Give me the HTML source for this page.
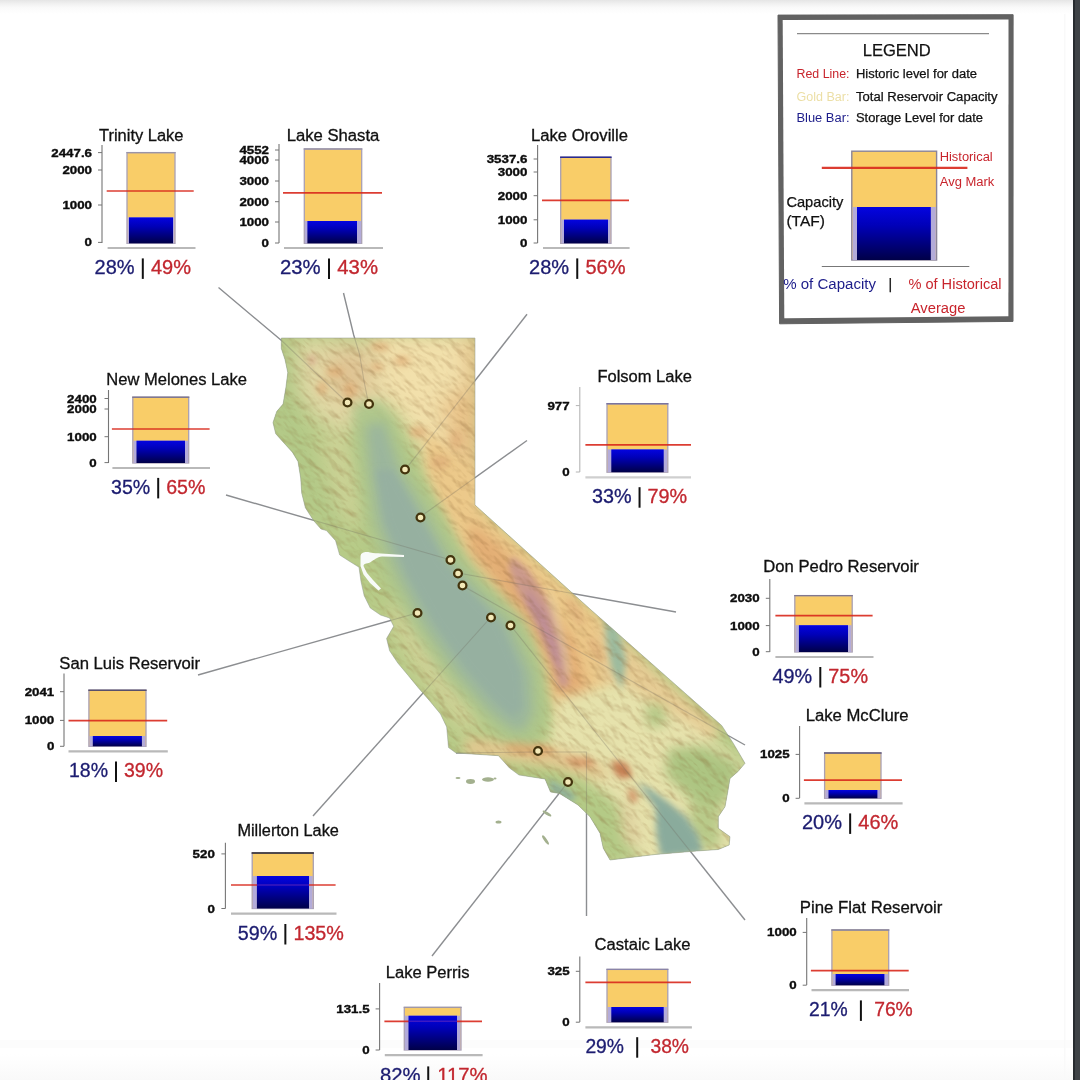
<!DOCTYPE html>
<html><head><meta charset="utf-8"><title>California Reservoir Conditions</title>
<style>
html,body{margin:0;padding:0;background:#fff;}
body{width:1080px;height:1080px;overflow:hidden;position:relative;font-family:"Liberation Sans", sans-serif;}
svg{position:absolute;left:0;top:0;display:block;}
svg text{font-family:"Liberation Sans", sans-serif;}
</style></head><body>
<svg width="1080" height="1080" viewBox="0 0 1080 1080">
<defs>
<linearGradient id="bl" x1="0" y1="0" x2="0" y2="1"><stop offset="0" stop-color="#0404e0"/><stop offset="0.35" stop-color="#0000b8"/><stop offset="1" stop-color="#000048"/></linearGradient>
<linearGradient id="topsh" x1="0" y1="0" x2="0" y2="1"><stop offset="0" stop-color="#e5e5e5"/><stop offset="0.25" stop-color="#f0f0f0"/><stop offset="0.55" stop-color="#fafafa"/><stop offset="1" stop-color="#ffffff"/></linearGradient>
<linearGradient id="botsh" x1="0" y1="0" x2="0" y2="1"><stop offset="0" stop-color="#ffffff"/><stop offset="1" stop-color="#f9f9f9"/></linearGradient>
<clipPath id="caclip"><path d="M281.3,338 L475,338 L475,505 L590,609 L721.7,725.5 L733.3,743.3 L745,763.3 L738,771.5 L730,778.5 L727.5,793.3 L725,806.7 L718.3,816.7 L718.3,828.3 L730,836.7 L729.2,845 L718.3,849.5 L696.7,851 L655,854.5 L610,860 L603.3,848.3 L600,833.3 L590,816.7 L578,805 L559.5,793.5 L550.5,792 L545,779 L519,775 L509.5,768 L498.5,755.7 L456,753 L448.5,747.5 L446.7,727 L440.5,714 L430.4,701.7 L418,687.4 L408,675.2 L397.8,663 L389.6,650.7 L386.6,638.5 L393.7,626.3 L389.6,618 L380.5,615 L370.3,608 L364.2,595.7 L361,581.5 L359,567.2 L349,561 L339.7,555 L335.6,540.7 L326.5,530.6 L321,529 L313.7,520.7 L305.4,507.8 L301.7,493 L300.7,478 L298,461.5 L292.4,452.2 L284,443 L275.7,433.7 L273,422.6 L276.7,411.5 L283.1,404 L285.9,387.4 L287.8,372.6 L285,359.6 L281.3,348.5 Z"/></clipPath>
<filter id="b6" x="-30%" y="-30%" width="160%" height="160%"><feGaussianBlur stdDeviation="6"/></filter>
<filter id="b10" x="-30%" y="-30%" width="160%" height="160%"><feGaussianBlur stdDeviation="10"/></filter>
<filter id="b3" x="-30%" y="-30%" width="160%" height="160%"><feGaussianBlur stdDeviation="3"/></filter>
<filter id="b1" x="-10%" y="-10%" width="120%" height="120%"><feGaussianBlur stdDeviation="0.6"/></filter>
<filter id="relief" x="0" y="0" width="100%" height="100%" color-interpolation-filters="sRGB"><feTurbulence type="fractalNoise" baseFrequency="0.06 0.12" numOctaves="3" seed="11" result="n"/><feDiffuseLighting in="n" surfaceScale="2.0" diffuseConstant="1" lighting-color="#ffffff" result="l"><feDistantLight azimuth="250" elevation="50"/></feDiffuseLighting><feColorMatrix in="l" type="matrix" values="0 0 0 0 0.52  0 0 0 0 0.36  0 0 0 0 0.18  -2.2 0 0 0 1.78"/></filter>
</defs>
<rect x="0" y="0" width="1080" height="1080" fill="#fff"/>
<rect x="0" y="0" width="1073" height="14" fill="url(#topsh)"/>
<rect x="0" y="1040" width="1073" height="8" fill="#fcfcfc"/><rect x="0" y="1054" width="1073" height="26" fill="url(#botsh)"/>
<rect x="1064" y="14" width="1.5" height="1066" fill="#f9f9f9"/>
<rect x="1073" y="0" width="7" height="1080" fill="#3f4347"/>
<rect x="1073" y="0" width="2" height="1080" fill="#272b2f"/>

<g stroke="#8c8e91" stroke-width="1.4" fill="none"><path d="M218.5,287.5 L281.5,340.5 L347,402.5"/><path d="M343.5,293 L353.7,335 L359.5,354 L364,381 L368.5,403.5"/><path d="M527,314.3 L405.5,469.4"/><path d="M527,440.5 L420,517"/><path d="M226,495 L451,560"/><path d="M676,612 L458,573"/><path d="M745,745 L463,586"/><path d="M198,675 L417,613"/><path d="M313,816 L491,617"/><path d="M745,920 L511,626"/><path d="M456,753 L538,752 L586.5,752 L586.5,916"/><path d="M432,956 L568,782"/></g>
<!-- MAP -->
<g id="map" filter="url(#b1)">
<g clip-path="url(#caclip)">
<rect x="260" y="330" width="500" height="540" fill="#b7cb88"/>
<g filter="url(#b10)">
<!-- Klamath / NW tan -->
<path d="M292,340 L400,340 L395,400 L370,418 L345,432 L318,420 L298,390 Z" fill="#e2d9a6"/>
<path d="M330,350 L370,350 L372,395 L345,405 L328,385 Z" fill="#e0c594"/>
<!-- NE Modoc tan -->
<path d="M375,332 L482,332 L482,515 L450,500 L425,455 L400,420 L383,395 Z" fill="#f2e0ab"/>
<path d="M440,400 L482,380 L482,510 L462,490 L448,440 Z" fill="#e9c48a"/>
<path d="M466,335 L482,335 L482,480 L470,450 Z" fill="#e6bd84"/>
<!-- west coast green strip -->
<path d="M268,345 L296,345 L302,420 L318,470 L345,520 L330,532 L300,500 L280,450 L266,420 Z" fill="#b2c987"/>
<!-- coast ranges (mid) tan-green -->
<path d="M318,436 L348,432 L358,480 L364,520 L352,532 L336,504 Z" fill="#d0d398" fill-opacity="0.85"/>
<path d="M388,602 L414,606 L452,662 L480,722 L468,738 L440,702 L412,662 L394,628 Z" fill="#d6d49a" fill-opacity="0.85"/>
</g>
<!-- Sierra Nevada band -->
<g filter="url(#b6)">
<path d="M425,430 L478,470 L478,505 L540,560 L600,615 L650,665 L600,700 L590,735 L565,735 L545,690 L530,640 L500,600 L470,570 L445,520 L425,470 Z" fill="#ecc98a"/>
<path d="M600,620 L660,675 L722,730 L700,750 L640,715 L600,680 Z" fill="#e6cc94"/>
<path d="M470,520 L500,545 L540,590 L575,640 L590,700 L580,725 L560,700 L540,650 L515,610 L490,575 L470,550 Z" fill="#e3ae74"/>
</g>
<g filter="url(#b3)">
<path d="M512,556 L528,570 L552,607 L566,650 L569,686 L560,688 L550,655 L534,620 L518,592 L509,568 Z" fill="#cb9a8c"/>
<path d="M527,588 L546,614 L559,650 L561,670 L552,660 L540,630 L527,604 Z" fill="#bf8e94"/>
</g>
<!-- south: transverse ranges & deserts -->
<g filter="url(#b6)">
<path d="M555,700 L620,682 L700,730 L748,765 L732,860 L600,865 L560,800 L548,750 Z" fill="#e6e2ac"/>
<path d="M668,748 L705,745 L742,766 L728,800 L715,812 L690,800 L665,775 Z" fill="#adc582"/>
<path d="M690,800 L722,805 L720,850 L700,850 L688,825 Z" fill="#b9cb8a"/>
<path d="M645,703 L664,705 L666,726 L648,728 Z" fill="#b4c886"/>
<path d="M465,738 L520,742 L560,748 L600,765 L612,775 L600,780 L570,772 L520,762 L465,756 Z" fill="#e2c890"/>
<path d="M515,770 L548,766 L585,778 L612,798 L630,822 L640,858 L605,864 L588,832 L560,800 Z" fill="#b4ca86"/>
<path d="M618,800 L632,806 L640,835 L636,852 L624,840 Z" fill="#e0d3a0"/>
</g>
<g filter="url(#b3)">
<path d="M605,615 L618,625 L626,660 L622,690 L612,670 L606,640 Z" fill="#9dbb9e"/>
<path d="M502,743 L520,739 L545,746 L558,752 L540,756 L512,752 Z" fill="#e0ab72"/>
<path d="M562,757 L590,758 L598,766 L575,767 Z" fill="#d9a070"/>
<path d="M612,760 L627,763 L633,777 L620,779 L613,770 Z" fill="#c98256"/>
<path d="M627,788 L635,791 L638,802 L631,802 Z" fill="#cd8c60"/>
<path d="M548,778 L576,795 L572,803 L551,792 Z" fill="#8fb09a"/>
</g>
<g filter="url(#b3)" fill="#deb07a" fill-opacity="0.8">
<ellipse cx="380" cy="347" rx="10" ry="4.5"/><ellipse cx="402" cy="361" rx="8" ry="5"/><ellipse cx="377" cy="367" rx="7" ry="4"/>
<ellipse cx="335" cy="372" rx="9" ry="6"/><ellipse cx="350" cy="390" rx="7" ry="8"/><ellipse cx="322" cy="388" rx="5" ry="7"/><ellipse cx="312" cy="360" rx="4" ry="6" fill="#d4a68a"/>
<ellipse cx="418" cy="432" rx="9" ry="6"/><ellipse cx="440" cy="462" rx="10" ry="7"/><ellipse cx="456" cy="440" rx="6" ry="10"/>
<ellipse cx="596" cy="650" rx="5" ry="14" transform="rotate(-25 596 650)"/><ellipse cx="575" cy="612" rx="5" ry="16" transform="rotate(-30 575 612)"/>
</g>
<!-- relief texture -->
<rect x="100" y="200" width="800" height="800" filter="url(#relief)" opacity="0.3" transform="rotate(44 500 600)"/>
<g filter="url(#b3)"><path d="M637,782 L650,789 L668,802 L686,817 L698,835 L703,853 L661,857 L656.5,835 L655.5,808 L648,797 Z" fill="#8aab9c"/></g>
<!-- Central valley (smooth, over texture) -->
<g filter="url(#b6)">
<path d="M352,405 L380,400 L395,420 L412,465 L442,515 L465,555 L490,585 L525,620 L545,670 L548,715 L535,745 L505,742 L478,715 L445,680 L412,630 L385,580 L366,530 L358,470 Z" fill="#acc58a" fill-opacity="0.92"/>
</g>
<g filter="url(#b6)">
<path d="M366,425 L384,422 L399,468 L428,518 L449,558 L474,586 L510,624 L531,674 L533,712 L523,732 L508,727 L488,710 L458,675 L424,626 L398,576 L377,522 L370,470 Z" fill="#9bb69c"/>
</g>
<g filter="url(#b3)">
<path d="M376,470 L392,470 L420,520 L442,560 L468,590 L500,625 L520,672 L522,708 L512,716 L494,700 L466,668 L434,622 L408,575 L386,522 Z" fill="#96b0a0"/>
</g>
<!-- SF bay -->
<g filter="url(#b1)">
<path d="M360.5,556 C361,552 366,551.5 370,552.5 C374,553.5 377,553 381,553.5 L404,555 L404,557 L382,556.5 C377,557 374,560 370,562.5 C366,564 364,563 363.5,566 L367,573 L373,580 L381,588.5 L378.5,590.5 L370,583 L363.5,574.5 L360.5,566 Z" fill="#f8fbf8"/>
</g>
<path d="M547,585 L556,600 L566,640 L572,675 L566,675 L558,640 L548,605 Z" fill="#f0e2b2" opacity="0.4" filter="url(#b3)"/>

</g>
</g>
<path d="M281.3,338 L475,338 L475,505 L590,609 L721.7,725.5 L733.3,743.3 L745,763.3 L738,771.5 L730,778.5 L727.5,793.3 L725,806.7 L718.3,816.7 L718.3,828.3 L730,836.7 L729.2,845 L718.3,849.5 L696.7,851 L655,854.5 L610,860 L603.3,848.3 L600,833.3 L590,816.7 L578,805 L559.5,793.5 L550.5,792 L545,779 L519,775 L509.5,768 L498.5,755.7 L456,753 L448.5,747.5 L446.7,727 L440.5,714 L430.4,701.7 L418,687.4 L408,675.2 L397.8,663 L389.6,650.7 L386.6,638.5 L393.7,626.3 L389.6,618 L380.5,615 L370.3,608 L364.2,595.7 L361,581.5 L359,567.2 L349,561 L339.7,555 L335.6,540.7 L326.5,530.6 L321,529 L313.7,520.7 L305.4,507.8 L301.7,493 L300.7,478 L298,461.5 L292.4,452.2 L284,443 L275.7,433.7 L273,422.6 L276.7,411.5 L283.1,404 L285.9,387.4 L287.8,372.6 L285,359.6 L281.3,348.5 Z" fill="none" stroke="#8f9a8c" stroke-opacity="0.55" stroke-width="0.9" filter="url(#b1)"/>
<g fill="#a3b08e" filter="url(#b1)">
<ellipse cx="470.5" cy="781.5" rx="4.5" ry="2.4"/><ellipse cx="488" cy="779.5" rx="6" ry="2.2"/><ellipse cx="458" cy="778" rx="2.5" ry="1"/><ellipse cx="495" cy="778.5" rx="1.5" ry="1"/>
<ellipse cx="498.5" cy="822" rx="3" ry="1.6"/><ellipse cx="547" cy="813.5" rx="5" ry="1.5" transform="rotate(32 547 813.5)"/><ellipse cx="545.5" cy="840" rx="5.5" ry="1.5" transform="rotate(55 545.5 840)"/>
</g>


<!-- leaders -->
<g stroke="#6b6458" stroke-width="1.1" fill="none" stroke-opacity="0.28" clip-path="url(#caclip)"><path d="M218.5,287.5 L281.5,340.5 L347,402.5"/><path d="M343.5,293 L353.7,335 L359.5,354 L364,381 L368.5,403.5"/><path d="M527,314.3 L405.5,469.4"/><path d="M527,440.5 L420,517"/><path d="M226,495 L451,560"/><path d="M676,612 L458,573"/><path d="M745,745 L463,586"/><path d="M198,675 L417,613"/><path d="M313,816 L491,617"/><path d="M745,920 L511,626"/><path d="M456,753 L538,752 L586.5,752 L586.5,916"/><path d="M432,956 L568,782"/></g>
<g fill="#f3e9b8" stroke="#43340e" stroke-width="2.3"><circle cx="347.5" cy="402.5" r="3.9"/><circle cx="369" cy="404" r="3.9"/><circle cx="405" cy="469.5" r="3.9"/><circle cx="420.5" cy="517.5" r="3.9"/><circle cx="450.5" cy="560" r="3.9"/><circle cx="458" cy="573.5" r="3.9"/><circle cx="462.5" cy="585.5" r="3.9"/><circle cx="417.5" cy="613" r="3.9"/><circle cx="491" cy="617.5" r="3.9"/><circle cx="510.5" cy="625.5" r="3.9"/><circle cx="538" cy="751" r="3.9"/><circle cx="568" cy="782" r="3.9"/></g>

<!-- charts -->
<g><text x="99" y="140.5" font-size="16" textLength="84.5" lengthAdjust="spacingAndGlyphs" fill="#111" stroke="#111" stroke-width="0.3">Trinity Lake</text><path d="M102,145 V243" stroke="#757575" stroke-width="1.1" fill="none"/><path d="M98,152.6 H102" stroke="#757575" stroke-width="1" fill="none"/><text x="51.3" y="156.6" font-size="11" font-weight="bold" textLength="40.7" lengthAdjust="spacingAndGlyphs" fill="#0c0c0c" stroke="#0c0c0c" stroke-width="0.35">2447.6</text><path d="M98,170 H102" stroke="#757575" stroke-width="1" fill="none"/><text x="62.4" y="174" font-size="11" font-weight="bold" textLength="29.6" lengthAdjust="spacingAndGlyphs" fill="#0c0c0c" stroke="#0c0c0c" stroke-width="0.35">2000</text><path d="M98,205 H102" stroke="#757575" stroke-width="1" fill="none"/><text x="62.4" y="209" font-size="11" font-weight="bold" textLength="29.6" lengthAdjust="spacingAndGlyphs" fill="#0c0c0c" stroke="#0c0c0c" stroke-width="0.35">1000</text><path d="M98,242.4 H102" stroke="#757575" stroke-width="1" fill="none"/><text x="84.6" y="246.4" font-size="11" font-weight="bold" textLength="7.4" lengthAdjust="spacingAndGlyphs" fill="#0c0c0c" stroke="#0c0c0c" stroke-width="0.35">0</text><rect x="127" y="152.6" width="48" height="90.7" fill="#f9cd68" stroke="#a9a0b4" stroke-width="1.3"/><path d="M126.4,152.6 H175.6" stroke="#9a94a8" stroke-width="1.4" fill="none"/><rect x="127.6" y="217.4" width="46.8" height="25.9" fill="#b3abd9"/><rect x="129" y="217.4" width="44" height="25.9" fill="url(#bl)"/><path d="M106.7,191 H193.7" stroke="#d8281c" stroke-width="1.7" stroke-opacity="0.9" fill="none"/><path d="M107.6,248 H195.5" stroke="#b9b9b9" stroke-width="2.2" fill="none"/><text x="94.6" y="274" font-size="20" textLength="96.4" lengthAdjust="spacingAndGlyphs" xml:space="preserve"><tspan fill="#1c1c70" stroke="#1c1c70" stroke-width="0.3">28%</tspan><tspan fill="none"> | </tspan><tspan fill="#c2272f" stroke="#c2272f" stroke-width="0.3">49%</tspan></text><path d="M142.8,258.4 V278.9" stroke="#111" stroke-width="2" fill="none"/></g>
<g><text x="286.7" y="140.5" font-size="16" textLength="92.6" lengthAdjust="spacingAndGlyphs" fill="#111" stroke="#111" stroke-width="0.3">Lake Shasta</text><path d="M279,144 V243" stroke="#757575" stroke-width="1.1" fill="none"/><path d="M275,150 H279" stroke="#757575" stroke-width="1" fill="none"/><text x="239.4" y="154" font-size="11" font-weight="bold" textLength="29.6" lengthAdjust="spacingAndGlyphs" fill="#0c0c0c" stroke="#0c0c0c" stroke-width="0.35">4552</text><path d="M275,160 H279" stroke="#757575" stroke-width="1" fill="none"/><text x="239.4" y="164" font-size="11" font-weight="bold" textLength="29.6" lengthAdjust="spacingAndGlyphs" fill="#0c0c0c" stroke="#0c0c0c" stroke-width="0.35">4000</text><path d="M275,181 H279" stroke="#757575" stroke-width="1" fill="none"/><text x="239.4" y="185" font-size="11" font-weight="bold" textLength="29.6" lengthAdjust="spacingAndGlyphs" fill="#0c0c0c" stroke="#0c0c0c" stroke-width="0.35">3000</text><path d="M275,201.7 H279" stroke="#757575" stroke-width="1" fill="none"/><text x="239.4" y="205.7" font-size="11" font-weight="bold" textLength="29.6" lengthAdjust="spacingAndGlyphs" fill="#0c0c0c" stroke="#0c0c0c" stroke-width="0.35">2000</text><path d="M275,222 H279" stroke="#757575" stroke-width="1" fill="none"/><text x="239.4" y="226" font-size="11" font-weight="bold" textLength="29.6" lengthAdjust="spacingAndGlyphs" fill="#0c0c0c" stroke="#0c0c0c" stroke-width="0.35">1000</text><path d="M275,243 H279" stroke="#757575" stroke-width="1" fill="none"/><text x="261.6" y="247" font-size="11" font-weight="bold" textLength="7.4" lengthAdjust="spacingAndGlyphs" fill="#0c0c0c" stroke="#0c0c0c" stroke-width="0.35">0</text><rect x="304.3" y="149" width="57.4" height="94.3" fill="#f9cd68" stroke="#a9a0b4" stroke-width="1.3"/><path d="M303.7,149 H362.3" stroke="#9a94a8" stroke-width="1.4" fill="none"/><rect x="304.9" y="221" width="56.2" height="22.3" fill="#b3abd9"/><rect x="307.4" y="221" width="49.6" height="22.3" fill="url(#bl)"/><path d="M283,192.8 H382" stroke="#d8281c" stroke-width="1.7" stroke-opacity="0.9" fill="none"/><path d="M284,248 H383" stroke="#b9b9b9" stroke-width="2.2" fill="none"/><text x="280" y="274" font-size="20" textLength="98" lengthAdjust="spacingAndGlyphs" xml:space="preserve"><tspan fill="#1c1c70" stroke="#1c1c70" stroke-width="0.3">23%</tspan><tspan fill="none"> | </tspan><tspan fill="#c2272f" stroke="#c2272f" stroke-width="0.3">43%</tspan></text><path d="M329,258.4 V278.9" stroke="#111" stroke-width="2" fill="none"/></g>
<g><text x="531" y="140.5" font-size="16" textLength="97" lengthAdjust="spacingAndGlyphs" fill="#111" stroke="#111" stroke-width="0.3">Lake Oroville</text><path d="M537.6,145 V243" stroke="#757575" stroke-width="1.1" fill="none"/><path d="M533.6,159 H537.6" stroke="#757575" stroke-width="1" fill="none"/><text x="486.7" y="163" font-size="11" font-weight="bold" textLength="40.7" lengthAdjust="spacingAndGlyphs" fill="#0c0c0c" stroke="#0c0c0c" stroke-width="0.35">3537.6</text><path d="M533.6,172 H537.6" stroke="#757575" stroke-width="1" fill="none"/><text x="497.8" y="176" font-size="11" font-weight="bold" textLength="29.6" lengthAdjust="spacingAndGlyphs" fill="#0c0c0c" stroke="#0c0c0c" stroke-width="0.35">3000</text><path d="M533.6,195.7 H537.6" stroke="#757575" stroke-width="1" fill="none"/><text x="497.8" y="199.7" font-size="11" font-weight="bold" textLength="29.6" lengthAdjust="spacingAndGlyphs" fill="#0c0c0c" stroke="#0c0c0c" stroke-width="0.35">2000</text><path d="M533.6,219.8 H537.6" stroke="#757575" stroke-width="1" fill="none"/><text x="497.8" y="223.8" font-size="11" font-weight="bold" textLength="29.6" lengthAdjust="spacingAndGlyphs" fill="#0c0c0c" stroke="#0c0c0c" stroke-width="0.35">1000</text><path d="M533.6,243 H537.6" stroke="#757575" stroke-width="1" fill="none"/><text x="520" y="247" font-size="11" font-weight="bold" textLength="7.4" lengthAdjust="spacingAndGlyphs" fill="#0c0c0c" stroke="#0c0c0c" stroke-width="0.35">0</text><rect x="560.7" y="157.2" width="50.3" height="86.1" fill="#f9cd68" stroke="#a9a0b4" stroke-width="1.3"/><path d="M560.1,157.2 H611.6" stroke="#2a2a90" stroke-width="1.4" fill="none"/><rect x="561.3" y="219.6" width="49.1" height="23.7" fill="#b3abd9"/><rect x="564" y="219.6" width="44" height="23.7" fill="url(#bl)"/><path d="M542,200.4 H629" stroke="#d8281c" stroke-width="1.7" stroke-opacity="0.9" fill="none"/><path d="M543,248 H629.6" stroke="#b9b9b9" stroke-width="2.2" fill="none"/><text x="529" y="274" font-size="20" textLength="96.5" lengthAdjust="spacingAndGlyphs" xml:space="preserve"><tspan fill="#1c1c70" stroke="#1c1c70" stroke-width="0.3">28%</tspan><tspan fill="none"> | </tspan><tspan fill="#c2272f" stroke="#c2272f" stroke-width="0.3">56%</tspan></text><path d="M577.25,258.4 V278.9" stroke="#111" stroke-width="2" fill="none"/></g>
<g><text x="106.3" y="385" font-size="16" textLength="140.7" lengthAdjust="spacingAndGlyphs" fill="#111" stroke="#111" stroke-width="0.3">New Melones Lake</text><path d="M108.5,390 V463" stroke="#757575" stroke-width="1.1" fill="none"/><path d="M104.5,398.5 H108.5" stroke="#757575" stroke-width="1" fill="none"/><text x="67.1" y="402.5" font-size="11" font-weight="bold" textLength="29.6" lengthAdjust="spacingAndGlyphs" fill="#0c0c0c" stroke="#0c0c0c" stroke-width="0.35">2400</text><path d="M104.5,409 H108.5" stroke="#757575" stroke-width="1" fill="none"/><text x="67.1" y="413" font-size="11" font-weight="bold" textLength="29.6" lengthAdjust="spacingAndGlyphs" fill="#0c0c0c" stroke="#0c0c0c" stroke-width="0.35">2000</text><path d="M104.5,436.7 H108.5" stroke="#757575" stroke-width="1" fill="none"/><text x="67.1" y="440.7" font-size="11" font-weight="bold" textLength="29.6" lengthAdjust="spacingAndGlyphs" fill="#0c0c0c" stroke="#0c0c0c" stroke-width="0.35">1000</text><path d="M104.5,462.6 H108.5" stroke="#757575" stroke-width="1" fill="none"/><text x="89.3" y="466.6" font-size="11" font-weight="bold" textLength="7.4" lengthAdjust="spacingAndGlyphs" fill="#0c0c0c" stroke="#0c0c0c" stroke-width="0.35">0</text><rect x="132.8" y="397.2" width="55.9" height="65.8" fill="#f9cd68" stroke="#a9a0b4" stroke-width="1.3"/><path d="M132.2,397.2 H189.3" stroke="#807890" stroke-width="1.4" fill="none"/><rect x="133.4" y="440.7" width="54.7" height="22.3" fill="#b3abd9"/><rect x="136.5" y="440.7" width="48.5" height="22.3" fill="url(#bl)"/><path d="M111.9,429 H209.6" stroke="#d8281c" stroke-width="1.7" stroke-opacity="0.9" fill="none"/><path d="M112.4,468 H210" stroke="#b9b9b9" stroke-width="2.2" fill="none"/><text x="111" y="493.5" font-size="20" textLength="94.4" lengthAdjust="spacingAndGlyphs" xml:space="preserve"><tspan fill="#1c1c70" stroke="#1c1c70" stroke-width="0.3">35%</tspan><tspan fill="none"> | </tspan><tspan fill="#c2272f" stroke="#c2272f" stroke-width="0.3">65%</tspan></text><path d="M158.2,477.9 V498.4" stroke="#111" stroke-width="2" fill="none"/></g>
<g><text x="597.4" y="382.4" font-size="16" textLength="94.5" lengthAdjust="spacingAndGlyphs" fill="#111" stroke="#111" stroke-width="0.3">Folsom Lake</text><path d="M579.8,387 V472" stroke="#b4b4b4" stroke-width="1.1" fill="none"/><path d="M575.8,405.6 H579.8" stroke="#b4b4b4" stroke-width="1" fill="none"/><text x="547.4" y="409.6" font-size="11" font-weight="bold" textLength="22.2" lengthAdjust="spacingAndGlyphs" fill="#0c0c0c" stroke="#0c0c0c" stroke-width="0.35">977</text><path d="M575.8,472 H579.8" stroke="#b4b4b4" stroke-width="1" fill="none"/><text x="562.2" y="476" font-size="11" font-weight="bold" textLength="7.4" lengthAdjust="spacingAndGlyphs" fill="#0c0c0c" stroke="#0c0c0c" stroke-width="0.35">0</text><rect x="607" y="403.7" width="60.8" height="68.5" fill="#f9cd68" stroke="#a9a0b4" stroke-width="1.3"/><path d="M606.4,403.7 H668.4" stroke="#7a74a0" stroke-width="1.4" fill="none"/><rect x="607.6" y="449.4" width="59.6" height="22.8" fill="#b3abd9"/><rect x="611.3" y="449.4" width="52.4" height="22.8" fill="url(#bl)"/><path d="M585.4,444.8 H691" stroke="#d8281c" stroke-width="1.7" stroke-opacity="0.9" fill="none"/><path d="M585.4,477.4 H691" stroke="#cfcfcf" stroke-width="2.2" fill="none"/><text x="591.9" y="502.8" font-size="20" textLength="95.3" lengthAdjust="spacingAndGlyphs" xml:space="preserve"><tspan fill="#1c1c70" stroke="#1c1c70" stroke-width="0.3">33%</tspan><tspan fill="none"> | </tspan><tspan fill="#c2272f" stroke="#c2272f" stroke-width="0.3">79%</tspan></text><path d="M639.55,487.2 V507.7" stroke="#111" stroke-width="2" fill="none"/></g>
<g><text x="763.3" y="572.4" font-size="16" textLength="155.6" lengthAdjust="spacingAndGlyphs" fill="#111" stroke="#111" stroke-width="0.3">Don Pedro Reservoir</text><path d="M769.8,579 V652" stroke="#757575" stroke-width="1.1" fill="none"/><path d="M765.8,598.3 H769.8" stroke="#757575" stroke-width="1" fill="none"/><text x="730" y="602.3" font-size="11" font-weight="bold" textLength="29.6" lengthAdjust="spacingAndGlyphs" fill="#0c0c0c" stroke="#0c0c0c" stroke-width="0.35">2030</text><path d="M765.8,625.6 H769.8" stroke="#757575" stroke-width="1" fill="none"/><text x="730" y="629.6" font-size="11" font-weight="bold" textLength="29.6" lengthAdjust="spacingAndGlyphs" fill="#0c0c0c" stroke="#0c0c0c" stroke-width="0.35">1000</text><path d="M765.8,651.7 H769.8" stroke="#757575" stroke-width="1" fill="none"/><text x="752.2" y="655.7" font-size="11" font-weight="bold" textLength="7.4" lengthAdjust="spacingAndGlyphs" fill="#0c0c0c" stroke="#0c0c0c" stroke-width="0.35">0</text><rect x="794.8" y="595.6" width="57.4" height="56.4" fill="#f9cd68" stroke="#a9a0b4" stroke-width="1.3"/><path d="M794.2,595.6 H852.8" stroke="#807890" stroke-width="1.4" fill="none"/><rect x="795.4" y="625.2" width="56.2" height="26.8" fill="#b3abd9"/><rect x="798.9" y="625.2" width="49.1" height="26.8" fill="url(#bl)"/><path d="M775.4,615.7 H872.6" stroke="#d8281c" stroke-width="1.7" stroke-opacity="0.9" fill="none"/><path d="M775.4,657 H873.5" stroke="#b9b9b9" stroke-width="2.2" fill="none"/><text x="772.6" y="682.6" font-size="20" textLength="95.4" lengthAdjust="spacingAndGlyphs" xml:space="preserve"><tspan fill="#1c1c70" stroke="#1c1c70" stroke-width="0.3">49%</tspan><tspan fill="none"> | </tspan><tspan fill="#c2272f" stroke="#c2272f" stroke-width="0.3">75%</tspan></text><path d="M820.3,667 V687.5" stroke="#111" stroke-width="2" fill="none"/></g>
<g><text x="805.7" y="721" font-size="16" textLength="102.8" lengthAdjust="spacingAndGlyphs" fill="#111" stroke="#111" stroke-width="0.3">Lake McClure</text><path d="M799.6,726 V798" stroke="#757575" stroke-width="1.1" fill="none"/><path d="M795.6,754.4 H799.6" stroke="#757575" stroke-width="1" fill="none"/><text x="760" y="758.4" font-size="11" font-weight="bold" textLength="29.6" lengthAdjust="spacingAndGlyphs" fill="#0c0c0c" stroke="#0c0c0c" stroke-width="0.35">1025</text><path d="M795.6,798.3 H799.6" stroke="#757575" stroke-width="1" fill="none"/><text x="782.2" y="802.3" font-size="11" font-weight="bold" textLength="7.4" lengthAdjust="spacingAndGlyphs" fill="#0c0c0c" stroke="#0c0c0c" stroke-width="0.35">0</text><rect x="824.6" y="753" width="56.4" height="45.3" fill="#f9cd68" stroke="#a9a0b4" stroke-width="1.3"/><path d="M824,753 H881.6" stroke="#605878" stroke-width="1.4" fill="none"/><rect x="825.2" y="790" width="55.2" height="8.3" fill="#b3abd9"/><rect x="828.5" y="790" width="48.9" height="8.3" fill="url(#bl)"/><path d="M803.9,780.2 H902" stroke="#d8281c" stroke-width="1.7" stroke-opacity="0.9" fill="none"/><path d="M804.4,803.3 H902.6" stroke="#b9b9b9" stroke-width="2.2" fill="none"/><text x="802" y="829" font-size="20" textLength="96.3" lengthAdjust="spacingAndGlyphs" xml:space="preserve"><tspan fill="#1c1c70" stroke="#1c1c70" stroke-width="0.3">20%</tspan><tspan fill="none"> | </tspan><tspan fill="#c2272f" stroke="#c2272f" stroke-width="0.3">46%</tspan></text><path d="M850.15,813.4 V833.9" stroke="#111" stroke-width="2" fill="none"/></g>
<g><text x="799.8" y="913.3" font-size="16" textLength="142.6" lengthAdjust="spacingAndGlyphs" fill="#111" stroke="#111" stroke-width="0.3">Pine Flat Reservoir</text><path d="M806.7,918 V985" stroke="#757575" stroke-width="1.1" fill="none"/><path d="M802.7,932.4 H806.7" stroke="#757575" stroke-width="1" fill="none"/><text x="767.1" y="936.4" font-size="11" font-weight="bold" textLength="29.6" lengthAdjust="spacingAndGlyphs" fill="#0c0c0c" stroke="#0c0c0c" stroke-width="0.35">1000</text><path d="M802.7,985.2 H806.7" stroke="#757575" stroke-width="1" fill="none"/><text x="789.3" y="989.2" font-size="11" font-weight="bold" textLength="7.4" lengthAdjust="spacingAndGlyphs" fill="#0c0c0c" stroke="#0c0c0c" stroke-width="0.35">0</text><rect x="831.9" y="930" width="56.8" height="55.2" fill="#f9cd68" stroke="#a9a0b4" stroke-width="1.3"/><path d="M831.3,930 H889.3" stroke="#8a8498" stroke-width="1.4" fill="none"/><rect x="832.5" y="974" width="55.6" height="11.2" fill="#b3abd9"/><rect x="835.6" y="974" width="48.8" height="11.2" fill="url(#bl)"/><path d="M810.9,970.6 H908.7" stroke="#d8281c" stroke-width="1.7" stroke-opacity="0.9" fill="none"/><path d="M811.5,990.2 H909" stroke="#b9b9b9" stroke-width="2.2" fill="none"/><text x="809" y="1016" font-size="20" textLength="103.8" lengthAdjust="spacingAndGlyphs" xml:space="preserve"><tspan fill="#1c1c70" stroke="#1c1c70" stroke-width="0.3">21%</tspan><tspan fill="none">  |  </tspan><tspan fill="#c2272f" stroke="#c2272f" stroke-width="0.3">76%</tspan></text><path d="M860.9,1000.4 V1020.9" stroke="#111" stroke-width="2" fill="none"/></g>
<g><text x="594.6" y="950" font-size="16" textLength="95.8" lengthAdjust="spacingAndGlyphs" fill="#111" stroke="#111" stroke-width="0.3">Castaic Lake</text><path d="M579.8,956.5 V1022" stroke="#757575" stroke-width="1.1" fill="none"/><path d="M575.8,971.3 H579.8" stroke="#757575" stroke-width="1" fill="none"/><text x="547.4" y="975.3" font-size="11" font-weight="bold" textLength="22.2" lengthAdjust="spacingAndGlyphs" fill="#0c0c0c" stroke="#0c0c0c" stroke-width="0.35">325</text><path d="M575.8,1022.2 H579.8" stroke="#757575" stroke-width="1" fill="none"/><text x="562.2" y="1026.2" font-size="11" font-weight="bold" textLength="7.4" lengthAdjust="spacingAndGlyphs" fill="#0c0c0c" stroke="#0c0c0c" stroke-width="0.35">0</text><rect x="607" y="969.4" width="60.8" height="52.8" fill="#f9cd68" stroke="#a9a0b4" stroke-width="1.3"/><path d="M606.4,969.4 H668.4" stroke="#8a84a8" stroke-width="1.4" fill="none"/><rect x="607.6" y="1007" width="59.6" height="15.2" fill="#b3abd9"/><rect x="611.3" y="1007" width="52.4" height="15.2" fill="url(#bl)"/><path d="M585.4,982.4 H691" stroke="#d8281c" stroke-width="1.7" stroke-opacity="0.9" fill="none"/><path d="M585.4,1027.4 H691.9" stroke="#b9b9b9" stroke-width="2.2" fill="none"/><text x="585.4" y="1052.8" font-size="20" textLength="103.6" lengthAdjust="spacingAndGlyphs" xml:space="preserve"><tspan fill="#1c1c70" stroke="#1c1c70" stroke-width="0.3">29%</tspan><tspan fill="none">  |  </tspan><tspan fill="#c2272f" stroke="#c2272f" stroke-width="0.3">38%</tspan></text><path d="M637.2,1037.2 V1057.7" stroke="#111" stroke-width="2" fill="none"/></g>
<g><text x="385.7" y="977.8" font-size="16" textLength="83.9" lengthAdjust="spacingAndGlyphs" fill="#111" stroke="#111" stroke-width="0.3">Lake Perris</text><path d="M379.6,983 V1050" stroke="#757575" stroke-width="1.1" fill="none"/><path d="M375.6,1008.9 H379.6" stroke="#757575" stroke-width="1" fill="none"/><text x="336.3" y="1012.9" font-size="11" font-weight="bold" textLength="33.3" lengthAdjust="spacingAndGlyphs" fill="#0c0c0c" stroke="#0c0c0c" stroke-width="0.35">131.5</text><path d="M375.6,1050 H379.6" stroke="#757575" stroke-width="1" fill="none"/><text x="362.2" y="1054" font-size="11" font-weight="bold" textLength="7.4" lengthAdjust="spacingAndGlyphs" fill="#0c0c0c" stroke="#0c0c0c" stroke-width="0.35">0</text><rect x="404.3" y="1007.4" width="56.7" height="42.6" fill="#f9cd68" stroke="#a9a0b4" stroke-width="1.3"/><path d="M403.7,1007.4 H461.6" stroke="#a098a8" stroke-width="1.4" fill="none"/><rect x="404.9" y="1015.7" width="55.5" height="34.3" fill="#b3abd9"/><path d="M384.4,1021.3 H482" stroke="#d8281c" stroke-width="1.7" stroke-opacity="0.9" fill="none"/><rect x="408.5" y="1015.7" width="48.5" height="34.3" fill="url(#bl)"/><path d="M408.5,1021.3 H457" stroke="#7a30b8" stroke-width="1.4" stroke-opacity="0.5" fill="none"/><path d="M384.8,1055.2 H482.6" stroke="#b9b9b9" stroke-width="2.2" fill="none"/><text x="380" y="1082" font-size="20" textLength="107.6" lengthAdjust="spacingAndGlyphs" xml:space="preserve"><tspan fill="#1c1c70" stroke="#1c1c70" stroke-width="0.3">82%</tspan><tspan fill="none"> | </tspan><tspan fill="#c2272f" stroke="#c2272f" stroke-width="0.3">117%</tspan></text><path d="M428.23,1066.4 V1086.9" stroke="#111" stroke-width="2" fill="none"/></g>
<g><text x="237.4" y="836.3" font-size="16" textLength="101.5" lengthAdjust="spacingAndGlyphs" fill="#111" stroke="#111" stroke-width="0.3">Millerton Lake</text><path d="M225.4,842.8 V908.5" stroke="#757575" stroke-width="1.1" fill="none"/><path d="M221.4,853.9 H225.4" stroke="#757575" stroke-width="1" fill="none"/><text x="192.6" y="857.9" font-size="11" font-weight="bold" textLength="22.2" lengthAdjust="spacingAndGlyphs" fill="#0c0c0c" stroke="#0c0c0c" stroke-width="0.35">520</text><path d="M221.4,908.5 H225.4" stroke="#757575" stroke-width="1" fill="none"/><text x="207.4" y="912.5" font-size="11" font-weight="bold" textLength="7.4" lengthAdjust="spacingAndGlyphs" fill="#0c0c0c" stroke="#0c0c0c" stroke-width="0.35">0</text><rect x="252.2" y="853" width="61.1" height="55.5" fill="#f9cd68" stroke="#a9a0b4" stroke-width="1.3"/><path d="M251.6,853 H313.9" stroke="#28242c" stroke-width="1.4" fill="none"/><rect x="252.8" y="876" width="59.9" height="32.5" fill="#b3abd9"/><path d="M231,885 H335.6" stroke="#d8281c" stroke-width="1.7" stroke-opacity="0.9" fill="none"/><rect x="256.9" y="876" width="52.1" height="32.5" fill="url(#bl)"/><path d="M256.9,885 H309" stroke="#7a30b8" stroke-width="1.4" stroke-opacity="0.5" fill="none"/><path d="M231,913.7 H336.5" stroke="#b9b9b9" stroke-width="2.2" fill="none"/><text x="237.8" y="939.6" font-size="20" textLength="106.1" lengthAdjust="spacingAndGlyphs" xml:space="preserve"><tspan fill="#1c1c70" stroke="#1c1c70" stroke-width="0.3">59%</tspan><tspan fill="none"> | </tspan><tspan fill="#c2272f" stroke="#c2272f" stroke-width="0.3">135%</tspan></text><path d="M285.36,924 V944.5" stroke="#111" stroke-width="2" fill="none"/></g>
<g><text x="59.3" y="668.9" font-size="16" textLength="140.7" lengthAdjust="spacingAndGlyphs" fill="#111" stroke="#111" stroke-width="0.3">San Luis Reservoir</text><path d="M64,673.5 V746.3" stroke="#757575" stroke-width="1.1" fill="none"/><path d="M60,691.7 H64" stroke="#757575" stroke-width="1" fill="none"/><text x="24.7" y="695.7" font-size="11" font-weight="bold" textLength="29.6" lengthAdjust="spacingAndGlyphs" fill="#0c0c0c" stroke="#0c0c0c" stroke-width="0.35">2041</text><path d="M60,720.4 H64" stroke="#757575" stroke-width="1" fill="none"/><text x="24.7" y="724.4" font-size="11" font-weight="bold" textLength="29.6" lengthAdjust="spacingAndGlyphs" fill="#0c0c0c" stroke="#0c0c0c" stroke-width="0.35">1000</text><path d="M60,746.3 H64" stroke="#757575" stroke-width="1" fill="none"/><text x="46.9" y="750.3" font-size="11" font-weight="bold" textLength="7.4" lengthAdjust="spacingAndGlyphs" fill="#0c0c0c" stroke="#0c0c0c" stroke-width="0.35">0</text><rect x="88.9" y="690.2" width="57.1" height="56.1" fill="#f9cd68" stroke="#a9a0b4" stroke-width="1.3"/><path d="M88.3,690.2 H146.6" stroke="#58506c" stroke-width="1.4" fill="none"/><rect x="89.5" y="736" width="55.9" height="10.3" fill="#b3abd9"/><rect x="92.8" y="736" width="49.1" height="10.3" fill="url(#bl)"/><path d="M68.5,720.6 H167.2" stroke="#d8281c" stroke-width="1.7" stroke-opacity="0.9" fill="none"/><path d="M68.5,751.3 H167.8" stroke="#b9b9b9" stroke-width="2.2" fill="none"/><text x="69" y="777.2" font-size="20" textLength="94" lengthAdjust="spacingAndGlyphs" xml:space="preserve"><tspan fill="#1c1c70" stroke="#1c1c70" stroke-width="0.3">18%</tspan><tspan fill="none"> | </tspan><tspan fill="#c2272f" stroke="#c2272f" stroke-width="0.3">39%</tspan></text><path d="M116,761.6 V782.1" stroke="#111" stroke-width="2" fill="none"/></g>

<g id="legend">
<path d="M778,15.1 L1013.1,14.7 L1013,321.4 L779.6,323.8 Z" fill="#626262" stroke="#626262" stroke-width="1" stroke-linejoin="round"/><path d="M782.7,19.9 L1008.5,19.5 L1008.4,316.2 L784.3,318.3 Z" fill="#fff"/>
<path d="M797,33.6 H989" stroke="#8a8a8a" stroke-width="1.1"/>
<text x="862.7" y="55.7" font-size="16.5" textLength="68.1" lengthAdjust="spacingAndGlyphs" fill="#111" stroke="#111" stroke-width="0.25">LEGEND</text>
<text x="796.5" y="78" font-size="12" fill="#c8242c" textLength="53" lengthAdjust="spacingAndGlyphs">Red Line:</text>
<text x="856" y="78" font-size="12" fill="#111" stroke="#111" stroke-width="0.25" textLength="121" lengthAdjust="spacingAndGlyphs">Historic level for date</text>
<text x="796.5" y="101" font-size="12" fill="#ecdfa6" textLength="53" lengthAdjust="spacingAndGlyphs">Gold Bar:</text>
<text x="856" y="101" font-size="12" fill="#111" stroke="#111" stroke-width="0.25" textLength="141.5" lengthAdjust="spacingAndGlyphs">Total Reservoir Capacity</text>
<text x="796.5" y="122" font-size="12" fill="#1d1d8a" textLength="53" lengthAdjust="spacingAndGlyphs">Blue Bar:</text>
<text x="856" y="122" font-size="12" fill="#111" stroke="#111" stroke-width="0.25" textLength="127" lengthAdjust="spacingAndGlyphs">Storage Level for date</text>
<rect x="851.8" y="151.2" width="84.8" height="108.8" fill="#f9cd68" stroke="#8a8498" stroke-width="1.4"/>
<rect x="852.6" y="207" width="83.2" height="53" fill="#b3abd9"/>
<rect x="857" y="207" width="73.8" height="53" fill="url(#bl)"/>
<path d="M821.8,167.8 H967.4" stroke="#d8281c" stroke-width="2.2" stroke-opacity="0.9"/>
<path d="M821.8,266.5 H969.3" stroke="#777" stroke-width="1.2"/>
<text x="939.7" y="161.3" font-size="12" fill="#c8242c" textLength="53" lengthAdjust="spacingAndGlyphs">Historical</text>
<text x="939.7" y="185.8" font-size="12" fill="#c8242c" textLength="54.7" lengthAdjust="spacingAndGlyphs">Avg Mark</text>
<text x="786.4" y="207" font-size="14.5" fill="#111" stroke="#111" stroke-width="0.25" textLength="57" lengthAdjust="spacingAndGlyphs">Capacity</text>
<text x="786.4" y="226.3" font-size="14.5" fill="#111" stroke="#111" stroke-width="0.25" textLength="38.5" lengthAdjust="spacingAndGlyphs">(TAF)</text>
<text x="783.2" y="289.4" font-size="14" fill="#1d1d8a" textLength="92.8" lengthAdjust="spacingAndGlyphs">% of Capacity</text>
<text x="888.6" y="289" font-size="14" fill="#111" stroke="#111" stroke-width="0.25">|</text>
<text x="908.4" y="289.4" font-size="14" fill="#c8242c" textLength="93.2" lengthAdjust="spacingAndGlyphs">% of Historical</text>
<text x="910.8" y="313.4" font-size="14" fill="#c8242c" textLength="54.7" lengthAdjust="spacingAndGlyphs">Average</text>
</g>

</svg>
</body></html>
